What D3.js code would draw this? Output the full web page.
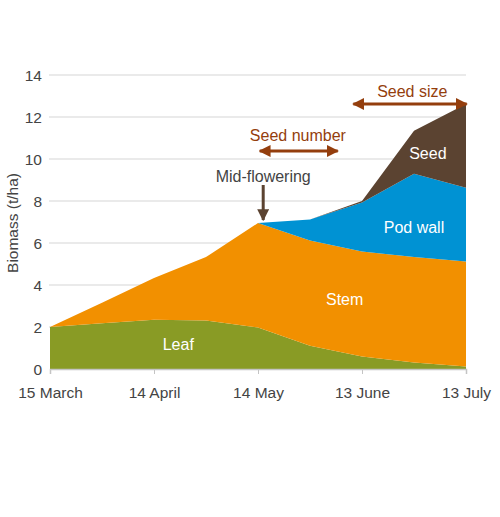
<!DOCTYPE html>
<html>
<head>
<meta charset="utf-8">
<script src="https://cdn.jsdelivr.net/npm/d3@7"></script>
<style>
  body { margin: 0; background: #fff; }
  svg { font-family: "Liberation Sans", Arial, sans-serif; }
</style>
</head>
<body>
<div id="chart"></div>
<script>
// days after 15 March
var days = [0, 15, 30, 45, 60, 75, 90, 105, 120];
var leaf = [2.0, 2.18, 2.35, 2.31, 1.98, 1.11, 0.6, 0.31, 0.12];
var stem = [0, 0.97, 1.98, 3.02, 4.97, 5.01, 5.0, 5.02, 5.0];
var podWall = [0, 0, 0, 0, 0, 1.0, 2.33, 3.97, 3.51];
var seed = [0, 0, 0, 0, 0, 0, 0.07, 2.05, 3.99];

var tickDays = [0, 30, 60, 90, 120];
var tickLabels = ["15 March", "14 April", "14 May", "13 June", "13 July"];
var yTicks = [0, 2, 4, 6, 8, 10, 12, 14];

var keys = ["leaf", "stem", "podWall", "seed"];
var colors = { leaf: "#899b25", stem: "#f29000", podWall: "#0092d3", seed: "#5b4331" };

var width = 500, height = 517;
var svg = d3.select("#chart").append("svg").attr("width", width).attr("height", height);

var x = d3.scaleLinear().domain([0, 120]).range([50, 466]);
var y = d3.scaleLinear().domain([0, 14]).range([369, 75]);

var table = days.map(function(d, i) {
  return { day: d, leaf: leaf[i], stem: stem[i], podWall: podWall[i], seed: seed[i] };
});
var series = d3.stack().keys(keys)(table);

// grid
svg.append("g").selectAll("line")
  .data(yTicks.filter(function(d) { return d > 0; }))
  .enter().append("line")
  .attr("x1", 49).attr("x2", 466)
  .attr("y1", function(d) { return y(d); })
  .attr("y2", function(d) { return y(d); })
  .attr("stroke", "#d6d6d6").attr("stroke-width", 1.2);

var area = d3.area()
  .x(function(d) { return x(d.data.day); })
  .y0(function(d) { return y(d[0]); })
  .y1(function(d) { return y(d[1]); });

svg.append("g").selectAll("path")
  .data(series)
  .enter().append("path")
  .attr("d", area)
  .attr("fill", function(d) { return colors[d.key]; });

// y axis labels
svg.append("g").selectAll("text")
  .data(yTicks)
  .enter().append("text")
  .attr("x", 42).attr("y", function(d) { return y(d) + 1; })
  .attr("dy", "0.35em").attr("text-anchor", "end")
  .attr("font-size", 15.5).attr("fill", "#444")
  .text(function(d) { return d; });

// x axis
var xAxis = d3.axisBottom(x).tickValues(tickDays).tickSize(5)
  .tickFormat(function(d, i) { return tickLabels[i]; });
var gx = svg.append("g").attr("transform", "translate(0,369)").call(xAxis);
gx.select(".domain").attr("stroke", "#c4c4c4").attr("stroke-width", 1.5);
gx.selectAll(".tick line").attr("stroke", "#c4c4c4");
gx.selectAll(".tick text").attr("font-size", 15.5).attr("fill", "#444")
  .attr("font-family", "Liberation Sans, Arial, sans-serif")
  .attr("y", 8).attr("dy", "21px");

svg.append("text")
  .attr("transform", "translate(18,223) rotate(-90)")
  .attr("text-anchor", "middle").attr("font-size", 15.5).attr("fill", "#444")
  .text("Biomass (t/ha)");

// area labels
var labels = [
  { t: "Leaf", d: 37, v: 1.15 },
  { t: "Stem", d: 85, v: 3.3 },
  { t: "Pod wall", d: 105, v: 6.75 },
  { t: "Seed", d: 109, v: 10.25 }
];
svg.append("g").selectAll("text")
  .data(labels).enter().append("text")
  .attr("x", function(d) { return x(d.d); })
  .attr("y", function(d) { return y(d.v); })
  .attr("dy", "0.35em").attr("text-anchor", "middle")
  .attr("font-size", 16).attr("fill", "#fff")
  .text(function(d) { return d.t; });

// arrow markers
var defs = svg.append("defs");
function marker(id, color) {
  defs.append("marker").attr("id", id)
    .attr("viewBox", "0 0 10 10").attr("refX", 9).attr("refY", 5)
    .attr("markerWidth", 4).attr("markerHeight", 4)
    .attr("markerUnits", "strokeWidth").attr("orient", "auto-start-reverse")
    .append("path").attr("d", "M0,0L10,5L0,10Z").attr("fill", color);
}
marker("rust", "#943e0d");
marker("brown", "#5b4331");

// Mid-flowering
svg.append("text").attr("x", x(61.5)).attr("y", 176).attr("dy", "0.35em")
  .attr("text-anchor", "middle").attr("font-size", 16).attr("fill", "#444")
  .text("Mid-flowering");
svg.append("line").attr("x1", x(61.5)).attr("x2", x(61.5)).attr("y1", 185).attr("y2", 220)
  .attr("stroke", "#5b4331").attr("stroke-width", 3).attr("marker-end", "url(#brown)");

// Seed number
svg.append("text").attr("x", x(71.5)).attr("y", 135).attr("dy", "0.35em")
  .attr("text-anchor", "middle").attr("font-size", 16).attr("fill", "#943e0d")
  .text("Seed number");
svg.append("line").attr("x1", x(60.5)).attr("x2", x(83)).attr("y1", 151).attr("y2", 151)
  .attr("stroke", "#943e0d").attr("stroke-width", 3)
  .attr("marker-start", "url(#rust)").attr("marker-end", "url(#rust)");

// Seed size
svg.append("text").attr("x", x(104.5)).attr("y", 91).attr("dy", "0.35em")
  .attr("text-anchor", "middle").attr("font-size", 16).attr("fill", "#943e0d")
  .text("Seed size");
svg.append("line").attr("x1", x(87.5)).attr("x2", x(120.2)).attr("y1", 104).attr("y2", 104)
  .attr("stroke", "#943e0d").attr("stroke-width", 3)
  .attr("marker-start", "url(#rust)").attr("marker-end", "url(#rust)");
</script>
</body>
</html>
